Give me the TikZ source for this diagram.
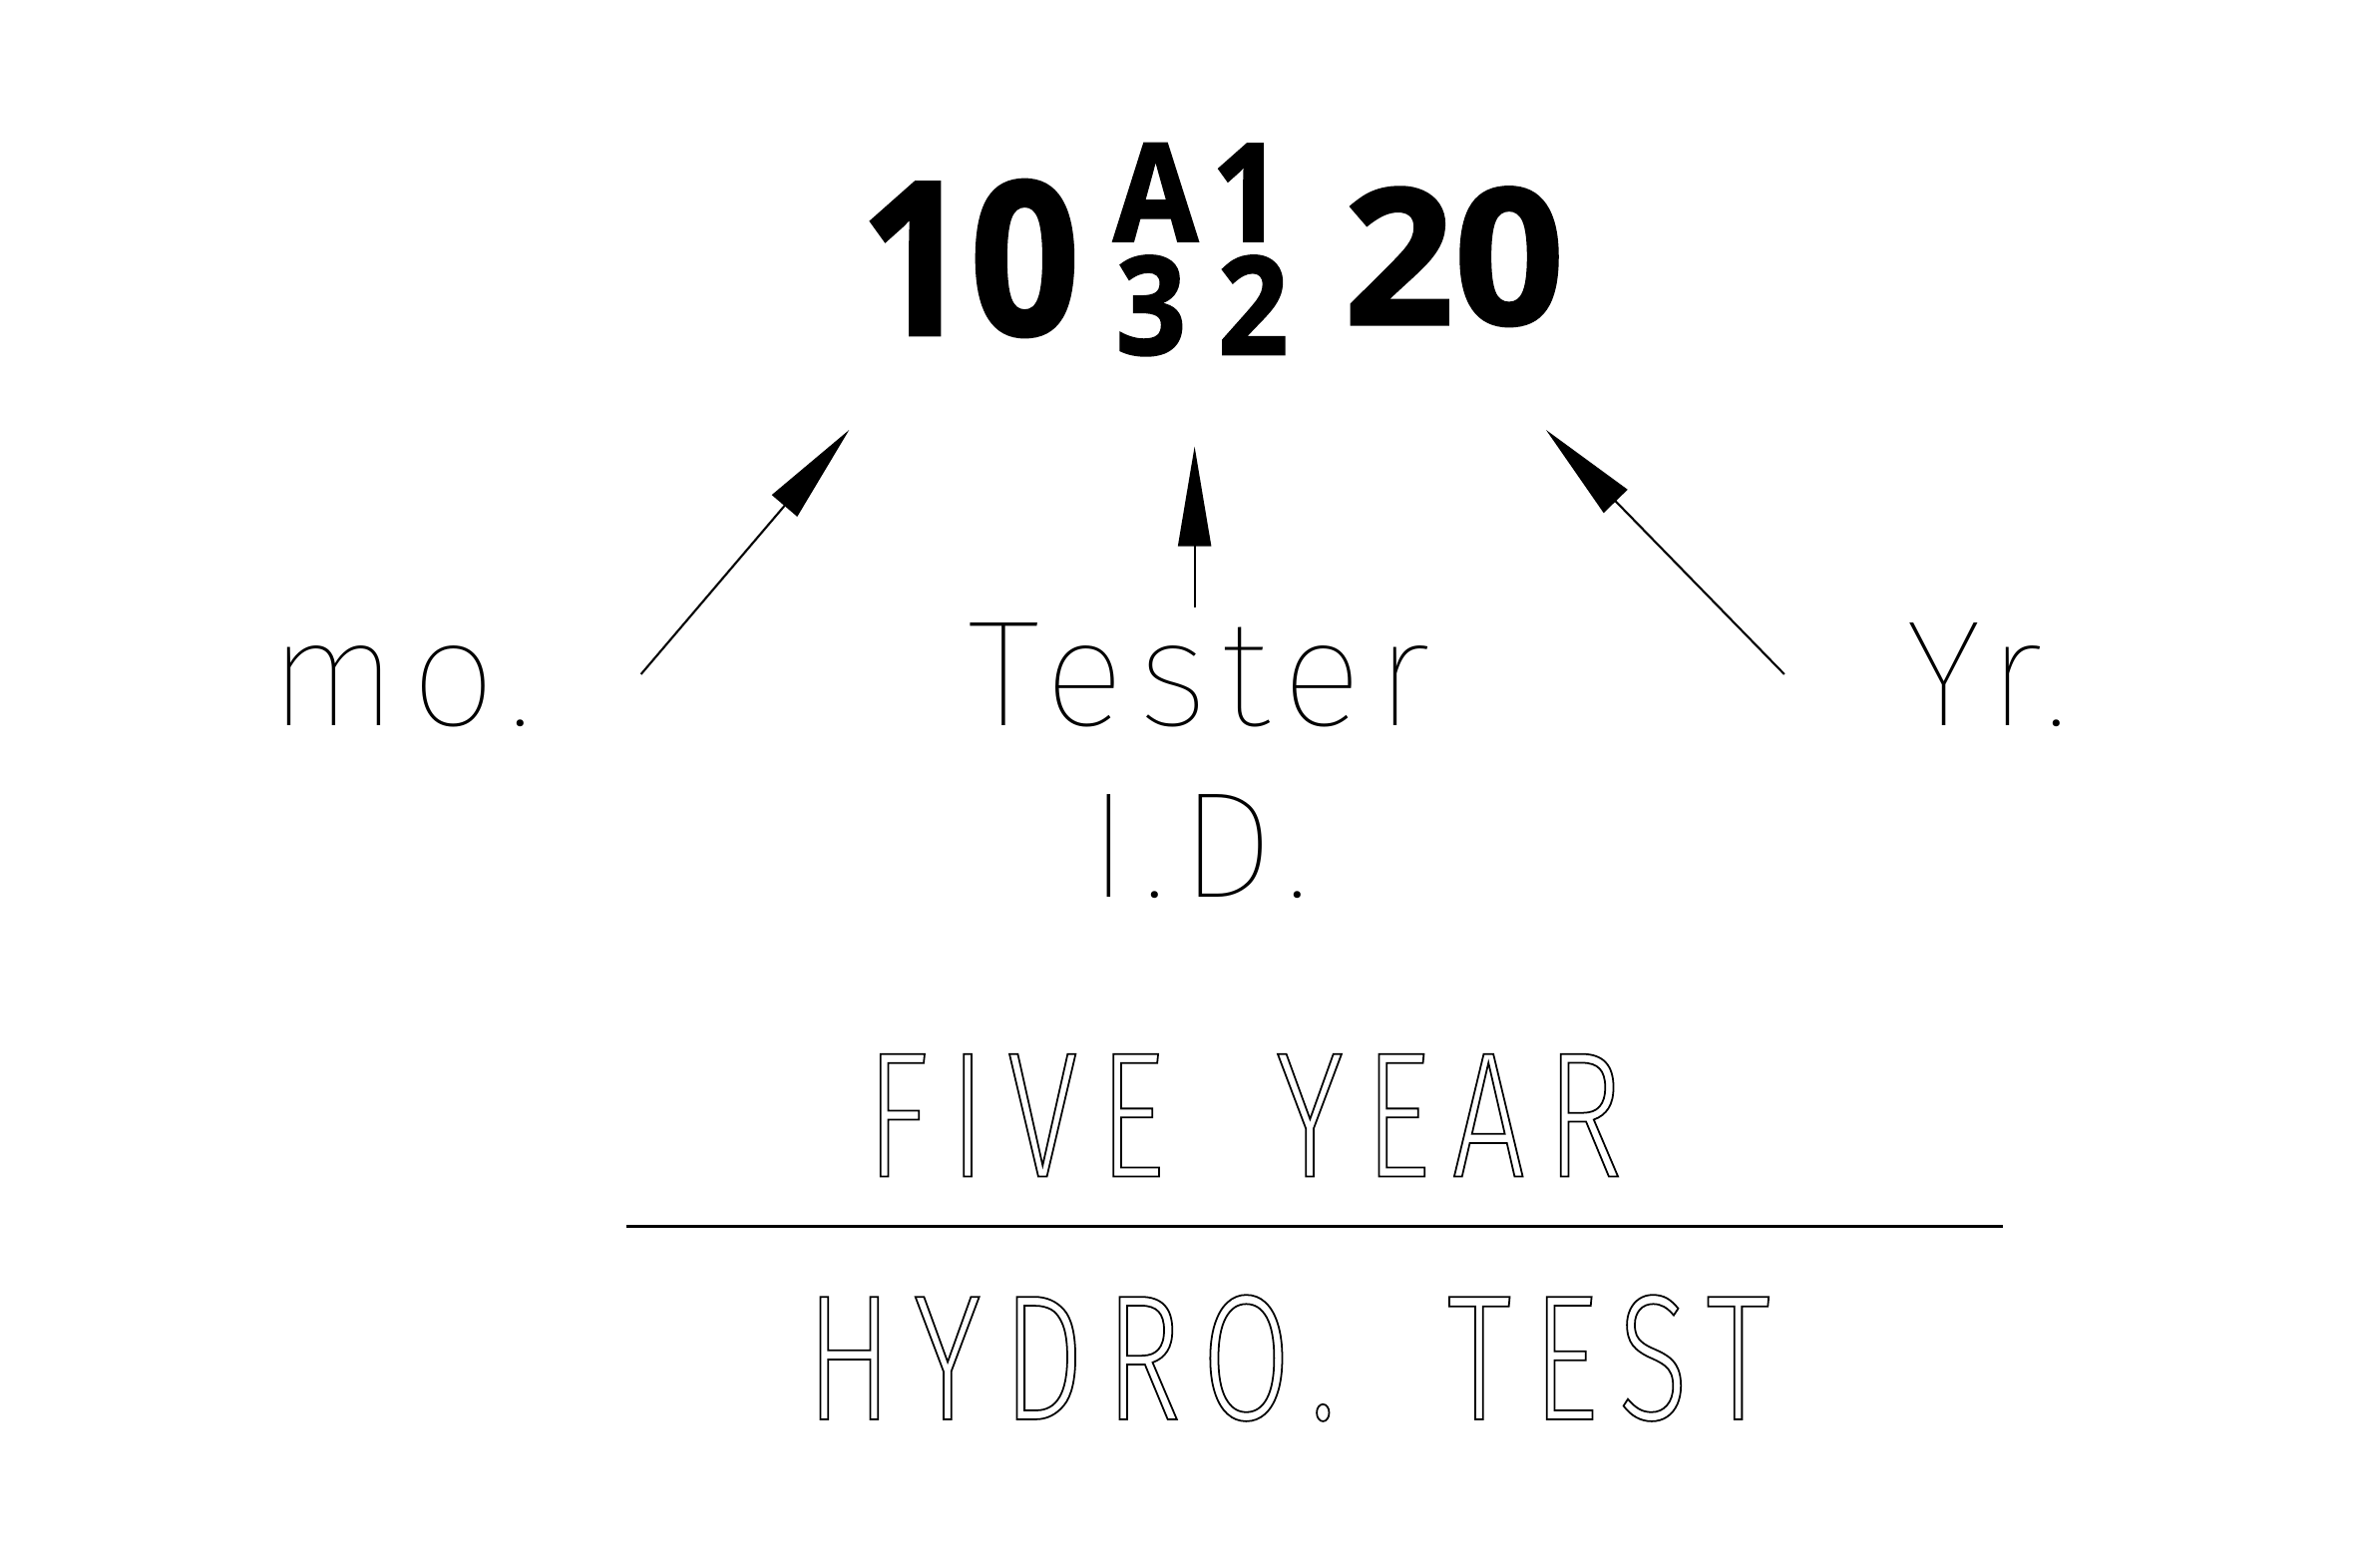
\documentclass[tikz,border=0pt]{standalone}
\usepackage{fontspec}
\usepackage{tikz}
\usetikzlibrary{arrows.meta}
\newfontfamily\numfont{Open Sans}[FakeStretch=0.9, FakeBold=1.5]
\newfontfamily\widenumfont{Open Sans}[FakeStretch=1.02, FakeBold=1.5]
\newfontfamily\thinfont{Fira Sans}[UprightFont={* Thin}, LetterSpace=9]
\newfontfamily\outlinefont{Fira Sans}[UprightFont={* Light}, FakeStretch=0.72, LetterSpace=12]
\newcommand{\outlinetext}[1]{\special{pdf:literal direct 1 Tr 0.5 w}#1\special{pdf:literal direct 0 Tr}}
\newcommand{\wordgap}{\hspace{0.3em}}
\tikzset{
    bignum/.style={inner sep=0pt, anchor=base},
    smallnum/.style={bignum, font=\numfont\bfseries\fontsize{39}{39}\selectfont, text height=28pt, text depth=0pt},
    thinlabel/.style={font=\thinfont\fontsize{43}{43}\selectfont, inner sep=0pt, anchor=base},
    banner/.style={font=\outlinefont\fontsize{51}{51}\selectfont, inner sep=0pt, anchor=base},
    pointer/.style={line width=0.6pt, -{Triangle[length=1cm, width=0.33cm]}},
    rule/.style={line width=0.7pt}
}
\begin{document}
\begin{tikzpicture}[x=0.01512cm, y=-0.01512cm]
    \useasboundingbox (0,0) rectangle (1568,1039);
    \node[banner] (fiveyear) at (825,780) {\outlinetext{FIVE \wordgap YEAR}};
    \node[banner] (hydrotest) at (854,941) {\outlinetext{HYDRO. \wordgap TEST}};
    \coordinate (ruleleft) at (415,813); \coordinate (ruleright) at (1328,813);
    \draw[rule] (ruleleft) -- (ruleright);
    \node[thinlabel] (month) at (266,481) {mo.};
    \node[thinlabel] (tester) at (795,481) {Tester};
    \node[thinlabel] (testerid) at (795,595) {I.D.};
    \node[thinlabel] (year) at (1318,481) {Yr.};
    \node[bignum, font=\numfont\bfseries\fontsize{61}{61}\selectfont] (monthnum) at (643,222) {10};
    \node[smallnum] (testertop) at (794,160) {A\hspace{0.1em}1};
    \node[smallnum] (testerbot) at (797,235) {3 2};
    \node[bignum, font=\widenumfont\bfseries\fontsize{54}{54}\selectfont] (yearnum) at (964,215) {20};
    \coordinate (monthtail) at (425,447); \coordinate (monthtip) at (563,285);
    \coordinate (testertail) at (792,403); \coordinate (testertip) at (792,296);
    \coordinate (yeartail) at (1183,447); \coordinate (yeartip) at (1025,285);
    \draw[pointer] (monthtail) -- (monthtip);
    \draw[pointer] (testertail) -- (testertip);
    \draw[pointer] (yeartail) -- (yeartip);
\end{tikzpicture}
\end{document}
